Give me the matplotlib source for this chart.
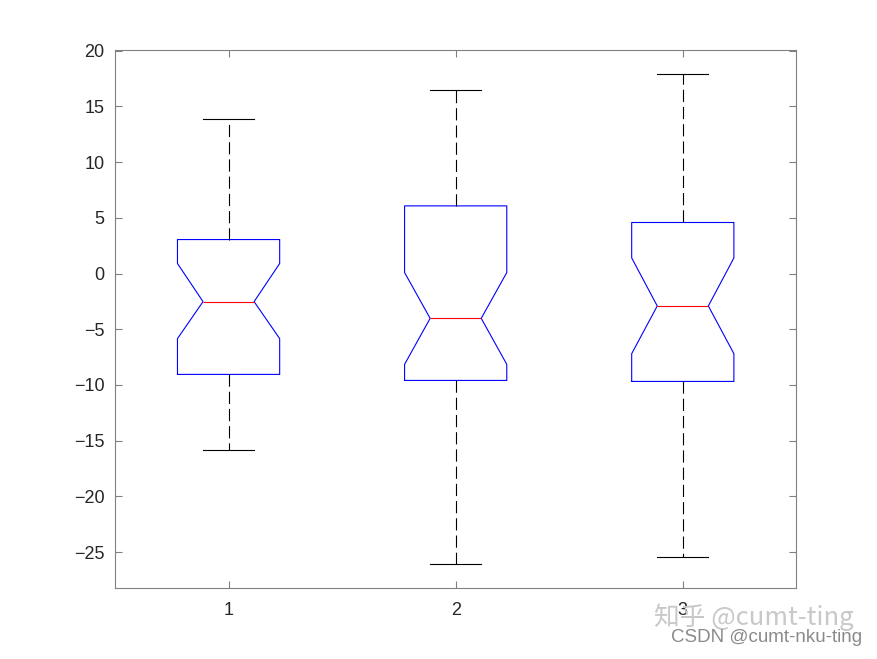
import matplotlib
matplotlib.use('Agg')
import matplotlib.pyplot as plt

# values (MATLAB style notched boxplot)
positions = [1, 2, 3]
tick_labels = ['1', '2', '3']
medians = [-2.52, -4.02, -2.91]
q1s = [-9.05, -9.59, -9.68]
q3s = [3.05, 6.07, 4.58]
whis_lo = [-15.79, -26.03, -25.40]
whis_hi = [13.86, 16.47, 17.88]
notch_lo = [-5.84, -8.15, -7.19]
notch_hi = [0.90, 0.09, 1.40]


def main():
    plt.rcParams['font.family'] = ['Liberation Sans', 'DejaVu Sans']
    fig = plt.figure(figsize=(8.78, 6.59), dpi=100)
    ax = fig.add_axes([0.131, 0.108, 0.776, 0.816])

    stats = []
    for i in range(len(positions)):
        stats.append(dict(med=medians[i], q1=q1s[i], q3=q3s[i],
                          whislo=whis_lo[i], whishi=whis_hi[i],
                          cilo=notch_lo[i], cihi=notch_hi[i],
                          fliers=[], label=tick_labels[i]))

    ax.bxp(stats, positions=positions, widths=0.45, capwidths=0.225,
           shownotches=True, showfliers=False,
           boxprops=dict(color='#0000ff', linewidth=0.8),
           medianprops=dict(color='#ff0000', linewidth=0.8),
           whiskerprops=dict(color='black', linewidth=0.8,
                             linestyle=(0, (11, 4.5))),
           capprops=dict(color='black', linewidth=0.8))

    ax.set_xlim(0.5, 3.5)
    ax.set_ylim(-28.2, 20.05)
    ax.set_yticks(range(-25, 21, 5))
    ax.set_xticks(positions)
    ax.set_xticklabels(tick_labels)

    for s in ax.spines.values():
        s.set_color('#808080')
        s.set_linewidth(0.8)
    ax.tick_params(direction='in', length=5, width=0.8, color='#808080',
                   labelsize=13, labelcolor='#262626', top=True, right=True)
    ax.tick_params(axis='y', pad=7.5)
    ax.tick_params(axis='x', pad=10.5)

    # watermarks
    fig.text(0.972, 0.063, '知乎 @cumt-ting', ha='right', va='center',
             fontsize=18.5, color='#c8c8c8',
             family=['Noto Sans CJK SC', 'DejaVu Sans'])
    fig.text(0.982, 0.033, 'CSDN @cumt-nku-ting', ha='right', va='center',
             fontsize=13.5, color='#8a8a8a')

    fig.savefig('out.png', dpi=100)


if __name__ == '__main__':
    main()
